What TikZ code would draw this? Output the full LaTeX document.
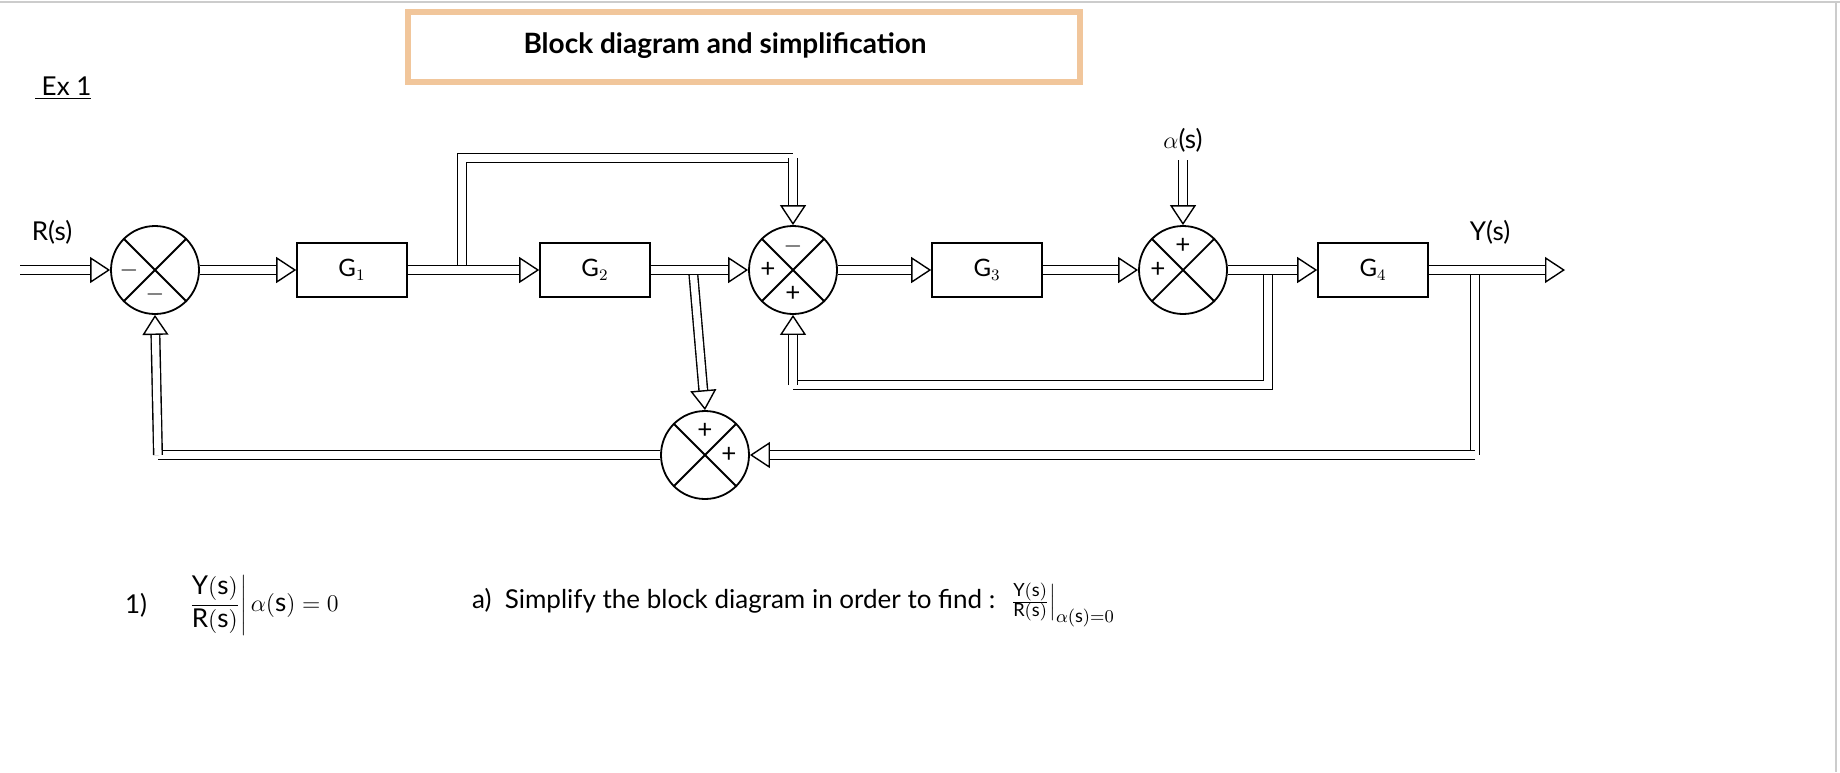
\documentclass[tikz,border=0pt]{standalone}
\usepackage{fontspec}
\setmainfont{Lato}
\usetikzlibrary{arrows.meta,calc}
\begin{document}
\begin{tikzpicture}[x=0.5pt,y=-0.5pt,
  blk/.style={draw,line width=0.8pt,minimum width=55pt,minimum height=27pt,inner sep=0pt,font=\fontsize{12}{14}\selectfont},
  sumj/.style={draw,circle,line width=0.9pt,minimum size=44pt,inner sep=0pt},
  arr/.style={double distance=3.6pt,line width=0.7pt,-{Triangle[open,length=10pt,width=13pt,line width=0.7pt]}},
  dl/.style={double distance=3.6pt,line width=0.7pt},
  sg/.style={font=\fontsize{13}{13}\selectfont,inner sep=0pt},
  lbl/.style={font=\fontsize{13}{15}\selectfont}]
\useasboundingbox (0,0) rectangle (1840,772);
\draw[gray!40,line width=1pt] (0,2) -- (1840,2) (1836,2) -- (1836,772);
\node[draw=orange!50!brown!45!white,line width=3pt,minimum width=336pt,minimum height=35pt] (title) at (744,47) {};
\node[font=\bfseries\fontsize{14}{16}\selectfont] (tt) at (725,46) {Block diagram and simplification};
\node[lbl,anchor=west] (ex) at (28,88) {\underline{\ Ex 1}};
% junctions
\foreach \n/\x/\y in {s1/155/270,s2/793/270,s3/1183/270,s4/705/455}{
  \node[sumj] (\n) at (\x,\y) {};
  \draw[line width=0.9pt] (\n.45) -- (\n.225) (\n.135) -- (\n.315);
}
\node[sg] at ($(s1)+(-26,0)$) {$-$};
\node[sg] at ($(s1)+(0,24)$) {$-$};
\node[sg] at ($(s2)+(0,-24)$) {$-$};
\node[sg] at ($(s2)+(-25,0)$) {+};
\node[sg] at ($(s2)+(0,24)$) {+};
\node[sg] at ($(s3)+(0,-24)$) {+};
\node[sg] at ($(s3)+(-25,0)$) {+};
\node[sg] at ($(s4)+(0,-24)$) {+};
\node[sg] at ($(s4)+(24,0)$) {+};
% blocks
\node[blk] (g1) at (352,270) {$\mathrm{G}_1$};
\node[blk] (g2) at (595,270) {$\mathrm{G}_2$};
\node[blk] (g3) at (987,270) {$\mathrm{G}_3$};
\node[blk] (g4) at (1373,270) {$\mathrm{G}_4$};
% coordinates
\coordinate (in) at (20,270);
\coordinate (out) at (1565,270);
\coordinate (al) at (1183,160);
\coordinate (b1) at (462,270); \coordinate (b1u) at (462,158); \coordinate (b1r) at (793,158);
\coordinate (b2) at (693,270); \coordinate (b2d) at (693,455);
\coordinate (b3) at (1268,270); \coordinate (b3d) at (1268,385); \coordinate (b3l) at (793,385);
\coordinate (b4) at (1475,270); \coordinate (b4d) at (1475,455);
\coordinate (f1) at (158,455);
\node[lbl] (R) at (52,232) {R(s)};
\node[lbl] (Y) at (1490,232) {Y(s)};
\node[lbl] (A) at (1183,140) {$\alpha$(s)};
% branch lines first
\draw[dl] (b1) -- (b1u) -- (b1r);
\draw[arr] (b1r) -- (s2.north);
\draw[arr] (b2) -- (s4.north);
\draw[dl] (b3) -- (b3d) -- (b3l);
\draw[arr] (b3l) -- (s2.south);
\draw[dl] (b4) -- (b4d);
\draw[arr] (b4d) -- (s4.east);
\draw[dl] (s4.west) -- (f1);
\draw[arr] (f1) -- (s1.south);
% main path
\draw[arr] (in) -- (s1.west);
\draw[arr] (s1.east) -- (g1.west);
\draw[arr] (g1.east) -- (g2.west);
\draw[arr] (g2.east) -- (s2.west);
\draw[arr] (s2.east) -- (g3.west);
\draw[arr] (g3.east) -- (s3.west);
\draw[arr] (al) -- (s3.north);
\draw[arr] (s3.east) -- (g4.west);
\draw[arr] (g4.east) -- (out);
% bottom text
\node[lbl,anchor=west] (q1) at (118,605) {1)};
\node[lbl,anchor=west] (q1f) at (180,605) {$\displaystyle\left.\frac{\mathrm{Y(s)}}{\mathrm{R(s)}}\right|\alpha(\mathrm{s})=0$};
\node[lbl,anchor=west] (qa) at (465,605) {a)\ \ Simplify the block diagram in order to find :\ \ $\left.\frac{\mathrm{Y(s)}}{\mathrm{R(s)}}\right|_{\alpha(\mathrm{s})=0}$};
\end{tikzpicture}
\end{document}
